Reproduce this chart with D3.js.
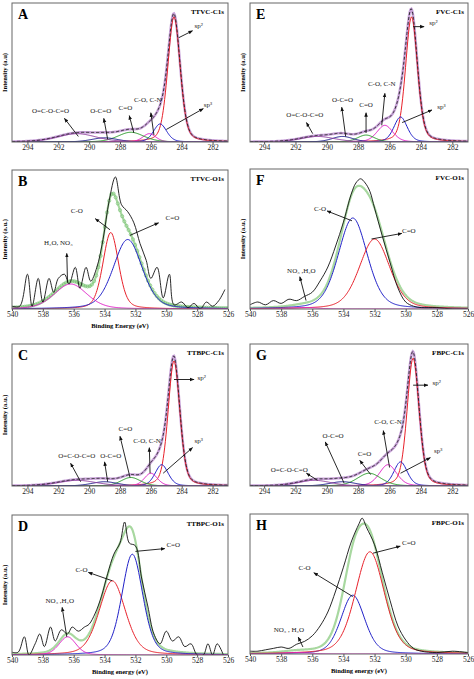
<!DOCTYPE html>
<html><head><meta charset="utf-8">
<script src="https://cdn.jsdelivr.net/npm/d3@7"></script>
<style>
body{margin:0;background:#fff;}
svg text{font-family:"Liberation Serif","DejaVu Serif",serif;}
</style></head>
<body><svg id="fig" width="474" height="679"></svg>
<script>
// peak components: [name, centre eV, fwhm eV, height (0..1 of frame), colour]
const peaksA = [["sp2",284.5,0.95,0.9,"#e8202a"],["sp3",285.4,1.0,0.13,"#2020c8"],["C-O",286.1,1.0,0.06,"#e020c8"],["C=O",287.3,2.0,0.07,"#2a9a2a"],["O-C=O",289.0,2.0,0.03,"#1a1a8a"],["OCOCO",290.8,3.0,0.06,"#9040a0"]];
const peaksE = [["sp2",284.6,0.9,0.9,"#e8202a"],["sp3",285.3,1.0,0.18,"#2020c8"],["C-O",286.3,1.2,0.12,"#e020c8"],["C=O",287.5,1.3,0.05,"#2a9a2a"],["O-C=O",289.0,1.6,0.04,"#1a1a8a"],["OCOCO",290.6,2.6,0.04,"#9040a0"]];
const peaksC = [["sp2",284.5,0.9,0.88,"#e8202a"],["sp3",285.3,1.0,0.15,"#2020c8"],["C-O",286.0,1.0,0.09,"#e020c8"],["C=O",287.3,1.5,0.06,"#2a9a2a"],["O-C=O",289.0,2.0,0.03,"#1a1a8a"],["OCOCO",290.8,3.0,0.04,"#9040a0"]];
const peaksG = [["sp2",284.5,0.9,0.9,"#e8202a"],["sp3",285.3,1.0,0.17,"#2020c8"],["C-O",286.1,1.3,0.15,"#e020c8"],["C=O",287.3,1.8,0.09,"#2a9a2a"],["O-C=O",289.0,2.0,0.03,"#1a1a8a"],["OCOCO",290.8,2.5,0.04,"#9040a0"]];
const peaksB = [["C-O",533.6,1.2,0.55,"#e8202a"],["C=O",532.5,2.2,0.5,"#2020c8"],["H2O",536.2,2.5,0.18,"#e020c8"]];
const peaksF = [["C-O",533.4,2.2,0.65,"#2020c8"],["C=O",532.0,2.3,0.5,"#e8202a"],["NO3",536.5,2.0,0.01,"#e020c8"]];
const peaksD = [["C-O",533.5,2.0,0.53,"#e8202a"],["C=O",532.2,1.6,0.72,"#2020c8"],["NO3",536.4,1.3,0.13,"#e020c8"]];
const peaksH = [["C-O",533.4,1.8,0.42,"#2020c8"],["C=O",532.3,2.2,0.73,"#e8202a"],["NO3",537.0,2.0,0.01,"#e020c8"]];

// measured O1s spectra [eV, intensity]
const rawB = [[540,0.02],[539.5,0.02],[539,0.25],[538.7,0.02],[538.3,0.22],[538,0.05],[537.6,0.22],[537.3,0.12],[537,0.22],[536.6,0.25],[536.3,0.18],[535.9,0.3],[535.6,0.15],[535.2,0.3],[534.9,0.2],[534.5,0.3],[534.1,0.5],[533.7,0.78],[533.3,0.95],[532.9,0.75],[532.5,0.7],[532.1,0.62],[531.7,0.47],[531.3,0.35],[531,0.22],[530.6,0.3],[530.2,0.08],[529.8,0.25],[529.5,0.03],[529,0.05],[528.6,0.01],[528.2,0.04],[527.8,0.0],[527.4,0.05],[527,0.02],[526.6,0.06],[526.2,0.14]];
const rawD = [[540,0.02],[539.6,0.02],[539.2,0.13],[538.9,0.0],[538.5,0.08],[538.2,0.15],[537.9,0.06],[537.5,0.2],[537.2,0.1],[536.8,0.18],[536.4,0.15],[536.1,0.2],[535.7,0.17],[535.3,0.2],[535,0.22],[534.6,0.3],[534.2,0.42],[533.8,0.58],[533.4,0.72],[533,0.8],[532.7,0.95],[532.4,0.8],[532.0,0.78],[531.6,0.55],[531.2,0.35],[530.8,0.15],[530.4,0.08],[530,0.17],[529.6,0.1],[529.2,0.13],[528.8,0.06],[528.4,0.08],[528.0,0.0],[527.6,0.0],[527.3,0.08],[527.0,0.0],[526.7,0.08],[526.3,0.0]];
const rawF = [[540,0.03],[539.5,0.05],[539,0.03],[538.5,0.06],[538,0.04],[537.5,0.07],[537,0.06],[536.5,0.09],[536,0.12],[535.5,0.2],[535,0.3],[534.5,0.45],[534,0.62],[533.5,0.82],[533.2,0.9],[532.9,0.93],[532.6,0.9],[532.3,0.84],[532,0.72],[531.5,0.52],[531,0.33],[530.5,0.15],[530,0.05],[529.5,0.02],[529,0.01],[528,0.01],[527,0],[526,0]];
const rawH = [[540,0.02],[539.5,0.02],[539,0.03],[538.5,0.04],[538,0.05],[537.5,0.04],[537,0.07],[536.5,0.09],[536,0.13],[535.5,0.2],[535,0.3],[534.5,0.45],[534,0.62],[533.5,0.8],[533,0.93],[532.8,0.97],[532.5,0.9],[532,0.78],[531.5,0.58],[531,0.38],[530.5,0.2],[530,0.1],[529.5,0.04],[529,0.02],[528,0.01],[527,0.02],[526,0.01]];

// annotations: [text, textX, textY, fromX, fromY, toX, toY]
const notesA = [["sp²",282.9,0.82,284.2,0.75,283.3,0.8],["sp³",282.3,0.25,285.0,0.09,282.6,0.24],["C-O, C-N",286.2,0.29,285.8,0.05,286.0,0.21],["C=O",287.65,0.23,287.1,0.065,287.4,0.19],["O-C=O",289.25,0.21,288.8,0.02,289.05,0.17],["O=C-O-C=O",292.5,0.21,290.7,0.04,291.6,0.17]];
const notesE = [["sp²",283.2,0.84,284.5,0.83,283.8,0.83],["sp³",282.7,0.24,285.2,0.14,283.3,0.23],["C-O, C-N",286.5,0.4,286.5,0.12,286.3,0.35],["C=O",287.5,0.25,287.5,0.065,287.5,0.21],["O-C=O",289.0,0.29,288.8,0.04,289.05,0.25],["O=C-O-C=O",291.4,0.18,290.9,0.06,291.3,0.14]];
const notesC = [["sp²",282.7,0.75,284.5,0.75,283.2,0.75],["sp³",282.9,0.3,285.2,0.09,283.3,0.27],["C-O, C-N",286.25,0.3,286.05,0.09,286.1,0.27],["C=O",287.65,0.39,287.35,0.06,288.0,0.35],["O-C=O",288.6,0.2,288.8,0.03,289.0,0.17],["O=C-O-C=O",290.8,0.2,290.55,0.03,291.2,0.16]];
const notesG = [["sp²",283.0,0.71,284.5,0.71,283.55,0.71],["sp³",282.9,0.23,285.3,0.09,283.4,0.2],["C-O, C-N",286.1,0.44,286.0,0.13,286.4,0.39],["C=O",287.6,0.21,287.2,0.08,287.9,0.18],["O-C=O",289.6,0.34,288.9,0.02,290.1,0.31],["O=C-O-C=O",292.4,0.1,290.6,0.04,291.3,0.09]];
const notesB = [["C-O",535.8,0.69,533.65,0.57,534.6,0.65],["C=O",529.6,0.64,532.35,0.53,530.5,0.62],["H₂O, NO₃",537.0,0.46,536.4,0.19,536.45,0.4]];
const notesF = [["C-O",535.5,0.7,533.45,0.63,535.05,0.7],["C=O",529.8,0.54,532.2,0.5,530.25,0.54],["NO₃ ,H₂O",536.7,0.26,536.4,0.06,536.8,0.23]];
const notesD = [["C-O",535.5,0.59,533.5,0.53,535.05,0.59],["C=O",529.55,0.77,532.0,0.74,530.1,0.76],["NO₃ ,H₂O",536.9,0.37,536.45,0.13,536.75,0.34]];
const notesH = [["C-O",536.5,0.6,533.4,0.41,535.9,0.58],["C=O",529.8,0.78,532.1,0.72,530.35,0.77],["NO₃ , H₂O",537.5,0.16,536.6,0.05,536.9,0.12]];

const c1sTicks = [294,292,290,288,286,284,282];
const o1sTicks = [540,538,536,534,532,530,528,526];

const panels = [
  {id:"A",title:"TTVC-C1s",x:12,y:3,w:216,h:139,dom:[295,281],ticks:c1sTicks,peaks:peaksA,notes:notesA,ylab:"Intensity (a.u)",xlab:null},
  {id:"E",title:"FVC-C1s",x:250,y:3,w:218,h:139,dom:[294.9,281],ticks:c1sTicks,peaks:peaksE,notes:notesE,ylab:"Intensity (a.u)",xlab:null},
  {id:"B",title:"TTVC-O1s",x:12,y:170,w:216,h:139,dom:[540,526],ticks:o1sTicks,peaks:peaksB,notes:notesB,raw:rawB,circles:true,ylab:"Intensity (a.u.)",xlab:"Binding Energy (eV)"},
  {id:"F",title:"FVC-O1s",x:250,y:169,w:218,h:140,dom:[540,526],ticks:o1sTicks,peaks:peaksF,notes:notesF,raw:rawF,ylab:"Intensity (a.u.)",xlab:null},
  {id:"C",title:"TTBPC-C1s",x:12,y:344,w:216,h:142,dom:[295,281],ticks:c1sTicks,peaks:peaksC,notes:notesC,ylab:"Intensity (a.u.)",xlab:null},
  {id:"G",title:"FBPC-C1s",x:250,y:344,w:218,h:142,dom:[294.9,281],ticks:c1sTicks,peaks:peaksG,notes:notesG,ylab:null,xlab:null},
  {id:"D",title:"TTBPC-O1s",x:12,y:515,w:216,h:140,dom:[540,526],ticks:o1sTicks,peaks:peaksD,notes:notesD,raw:rawD,ylab:"Intensity (a.u.)",xlab:"Binding energy (eV)"},
  {id:"H",title:"FBPC-O1s",x:250,y:514,w:218,h:140,dom:[540,526],ticks:o1sTicks,peaks:peaksH,notes:notesH,raw:rawH,ylab:null,xlab:"Binding energy (eV)"}
];

const svg = d3.select("#fig");
const defs = svg.append("defs");
defs.append("marker").attr("id","arr").attr("viewBox","0 0 10 10").attr("refX",9).attr("refY",5)
  .attr("markerWidth",5).attr("markerHeight",5).attr("orient","auto")
  .append("path").attr("d","M0,1L10,5L0,9z").attr("fill","#111");

// pseudo-Voigt line shape
function pv(e, p) {
  const s = p[2] / 2, d = (e - p[1]) / s;
  return p[3] * (0.7 * Math.exp(-Math.LN2 * d * d) + 0.3 / (1 + d * d));
}

panels.forEach((p) => {
  const g = svg.append("g").attr("transform", `translate(${p.x},${p.y})`);
  const x = d3.scaleLinear().domain(p.dom).range([0, p.w]);
  const y = d3.scaleLinear().domain([0, 1]).range([p.h, 0]);
  const grid = d3.range(0, 301).map((i) => p.dom[0] + (p.dom[1] - p.dom[0]) * i / 300);
  const line = d3.line().x((d) => x(d[0])).y((d) => y(d[1]));
  g.append("clipPath").attr("id", "cl" + p.id).append("rect").attr("width", p.w).attr("height", p.h);
  const plot = g.append("g").attr("clip-path", `url(#cl${p.id})`);

  const env = grid.map((e) => [e, d3.sum(p.peaks, (k) => pv(e, k))]);
  const isC = !p.raw;
  if (isC) {
    plot.append("path").attr("d", line(env)).attr("fill", "none").attr("stroke", "#c9a3d9").attr("stroke-width", 2.6);
  } else {
    plot.append("path").attr("d", line(env)).attr("fill", "none").attr("stroke", "#a8d8a0").attr("stroke-width", 2.2);
    if (p.circles) {
      plot.append("g").selectAll("circle").data(env.filter((d, i) => i % 3 === 0)).join("circle")
        .attr("cx", (d) => x(d[0])).attr("cy", (d) => y(d[1])).attr("r", 1.6)
        .attr("fill", "none").attr("stroke", "#7cc47a").attr("stroke-width", 0.7);
    }
  }
  p.peaks.forEach((k) => {
    plot.append("path").attr("d", line(grid.map((e) => [e, pv(e, k)])))
      .attr("fill", "none").attr("stroke", k[4]).attr("stroke-width", 1);
  });
  if (isC) {
    plot.append("path").attr("d", line(env)).attr("fill", "none").attr("stroke", "#222")
      .attr("stroke-width", 0.9).attr("stroke-dasharray", "3,2");
  } else {
    plot.append("path").attr("d", d3.line().x((d) => x(d[0])).y((d) => y(d[1])).curve(d3.curveCatmullRom)(p.raw))
      .attr("fill", "none").attr("stroke", "#111").attr("stroke-width", 0.9);
  }

  // frame and axis
  g.append("rect").attr("width", p.w).attr("height", p.h).attr("fill", "none").attr("stroke", "#666").attr("stroke-width", 1);
  const ax = g.append("g").attr("transform", `translate(0,${p.h})`)
    .call(d3.axisBottom(x).tickValues(p.ticks).tickSize(2).tickPadding(1).tickSizeOuter(0).tickFormat(d3.format("d")));
  ax.select(".domain").remove();
  ax.selectAll("line").attr("stroke", "#555");
  ax.selectAll("text").attr("font-size", 7.5).attr("fill", "#222");

  g.append("text").attr("x", 6).attr("y", 16).attr("font-size", 14).attr("font-weight", "bold").text(p.id);
  g.append("text").attr("x", p.w - 4).attr("y", 11).attr("text-anchor", "end")
    .attr("font-size", 7).attr("font-weight", "bold").text(p.title);
  if (p.ylab) g.append("text").attr("transform", `translate(-5,${p.h / 2}) rotate(-90)`)
    .attr("text-anchor", "middle").attr("font-size", 6.5).attr("font-weight", "bold").text(p.ylab);
  if (p.xlab) g.append("text").attr("x", p.w / 2).attr("y", p.h + 19).attr("text-anchor", "middle")
    .attr("font-size", 6.5).attr("font-weight", "bold").text(p.xlab);

  p.notes.forEach((n) => {
    g.append("line").attr("x1", x(n[3])).attr("y1", y(n[4])).attr("x2", x(n[5])).attr("y2", y(n[6]))
      .attr("stroke", "#111").attr("stroke-width", 0.9).attr("marker-end", "url(#arr)");
    g.append("text").attr("x", x(n[1])).attr("y", y(n[2])).attr("text-anchor", "middle")
      .attr("font-size", 7).attr("fill", "#222").text(n[0]);
  });
});
</script></body></html>
